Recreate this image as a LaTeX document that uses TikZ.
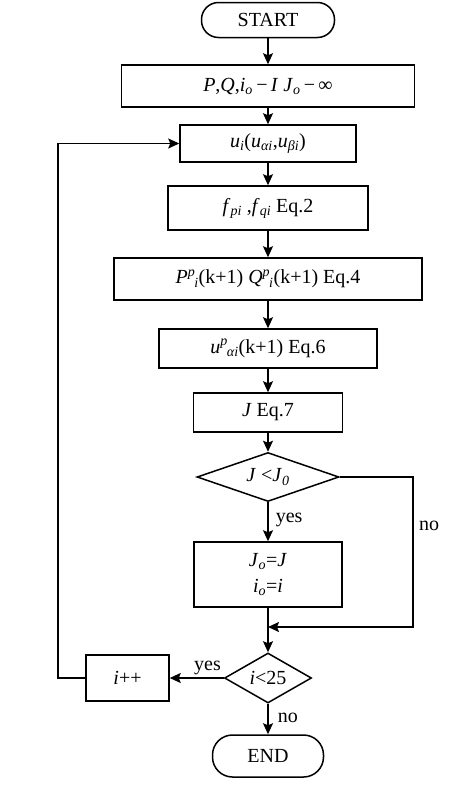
\documentclass[tikz,border=0pt]{standalone}
\usepackage{fontspec}
\setmainfont{Liberation Serif}
\usetikzlibrary{arrows.meta,shapes.geometric}
\newcommand\supsubx[2]{\textsuperscript{\textit{#1}}\kern-1pt\textsubscript{\textit{#2}}}
\newcommand\sbx[1]{\textsubscript{\textit{#1}}}
\begin{document}
\begin{tikzpicture}[x=1pt,y=-1pt,
  every node/.style={font=\fontsize{20}{24}\selectfont},
  box/.style={draw,line width=1.5pt,rectangle,inner sep=0pt,align=center},
  term/.style={box,rounded corners=17pt},
  dia/.style={draw,line width=1.5pt,diamond,inner sep=0pt},
  conn/.style={line width=1.5pt,-{Stealth[length=11pt,width=10pt,inset=2pt]}},
  lbl/.style={inner sep=1pt}]
\useasboundingbox (0,0) rectangle (474,785);
\node[term,minimum width=133pt,minimum height=35pt] (start) at (268,20) {START};
\node[box,minimum width=293pt,minimum height=42pt] (b1) at (268,86) {\textit{P},\textit{Q},\textit{i}\sbx{o}\,−\,\textit{I} \textit{J}\sbx{o}\,−\,∞};
\node[box,minimum width=176pt,minimum height=37pt] (b2) at (268,143.5) {\textit{u}\sbx{i}(\textit{u}\sbx{αi},\textit{u}\sbx{βi})};
\node[box,minimum width=200pt,minimum height=44pt] (b3) at (268,208) {\textit{f}\sbx{pi} ,\textit{f}\sbx{qi} Eq.2};
\node[box,minimum width=308pt,minimum height=42pt] (b4) at (268,279) {\textit{P}\supsubx{p}{i}(k+1) \textit{Q}\supsubx{p}{i}(k+1) Eq.4};
\node[box,minimum width=218pt,minimum height=39pt] (b5) at (268,348.5) {\textit{u}\supsubx{p}{αi}(k+1) Eq.6};
\node[box,minimum width=149pt,minimum height=39pt] (b6) at (268,412.5) {\textit{J} Eq.7};
\node[dia,minimum width=142pt,minimum height=49pt,aspect=2.9] (d1) at (268,477) {\textit{J} <\textit{J}\sbx{0}};
\node[box,minimum width=148pt,minimum height=65pt] (b7) at (268,574.5) {\textit{J}\sbx{o}=\textit{J}\\[2pt]\textit{i}\sbx{o}=\textit{i}};
\node[dia,minimum width=87pt,minimum height=50pt,aspect=1.74] (d2) at (268,678) {\textit{i}<25};
\node[box,minimum width=83pt,minimum height=46pt] (inc) at (127.5,678) {\textit{i}++};
\node[term,minimum width=111pt,minimum height=42pt,rounded corners=20pt] (end) at (268,756) {END};
\coordinate (m) at (268,627);
\coordinate (r) at (413,627);
\coordinate (l1) at (58,678);
\coordinate (l2) at (58,143.5);
\draw[conn] (start) -- (b1);
\draw[conn] (b1) -- (b2);
\draw[conn] (b2) -- (b3);
\draw[conn] (b3) -- (b4);
\draw[conn] (b4) -- (b5);
\draw[conn] (b5) -- (b6);
\draw[conn] (b6) -- (d1);
\draw[conn] (d1) -- node[lbl,right=6pt,pos=0.45] (yes1) {yes} (b7);
\draw[conn] (b7) -- (d2);
\draw[conn] (d1.east) -| (r) -- (m);
\node[lbl] (no1) at (429,526) {no};
\draw[conn] (d2.west) -- node[lbl,above=1pt,pos=0.3] (yes2) {yes} (inc.east);
\draw[conn] (inc.west) -- (l1) -- (l2) -- (b2.west);
\draw[conn] (d2.south) -- node[lbl,right=8pt,pos=0.45] (no2) {no} (end);
\end{tikzpicture}
\end{document}
